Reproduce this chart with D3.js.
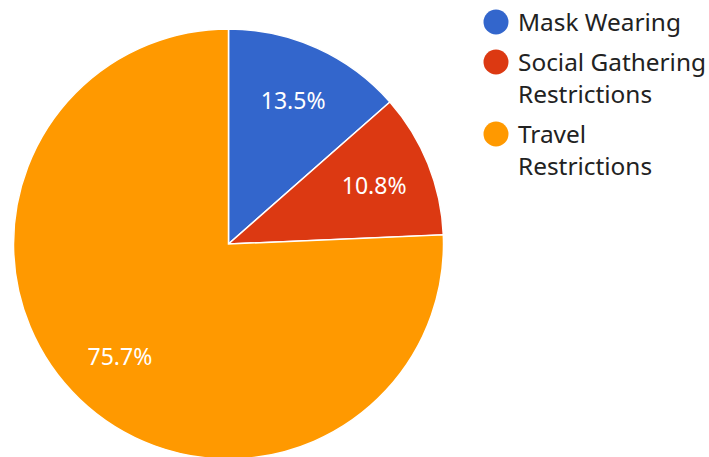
<!DOCTYPE html>
<html>
<head>
<meta charset="utf-8">
<script src="https://cdn.jsdelivr.net/npm/d3@7"></script>
<style>
  body { margin: 0; background: #fff; }
  text { font-family: "Noto Sans", sans-serif; }
</style>
</head>
<body>
<div id="chart"></div>
<script>
var categories = ["Mask Wearing", "Social Gathering Restrictions", "Travel Restrictions"];
var values = [5, 4, 28];
var legendLines = [["Mask Wearing"], ["Social Gathering", "Restrictions"], ["Travel", "Restrictions"]];
var colors = ["#3366cc", "#dc3912", "#ff9900"];

var width = 709, height = 457;
var cx = 228.5, cy = 244, radius = 215;

var svg = d3.select("#chart").append("svg")
    .attr("width", width)
    .attr("height", height);

var color = d3.scaleOrdinal()
    .domain(categories)
    .range(colors);

var data = categories.map(function (c, i) {
    return {name: c, value: values[i]};
});
var total = d3.sum(values);

var pie = d3.pie()
    .sort(null)
    .value(function (d) { return d.value; });

var arc = d3.arc()
    .innerRadius(0)
    .outerRadius(radius);

var labelArc = d3.arc()
    .innerRadius(radius * 0.73)
    .outerRadius(radius * 0.73);

var g = svg.append("g")
    .attr("transform", "translate(" + cx + "," + cy + ")");

var slices = g.selectAll(".slice")
    .data(pie(data))
    .enter().append("g")
    .attr("class", "slice");

slices.append("path")
    .attr("d", arc)
    .style("fill", function (d) { return color(d.data.name); })
    .style("stroke", "#fff")
    .style("stroke-width", 1.5);

slices.append("text")
    .attr("transform", function (d) {
        return "translate(" + labelArc.centroid(d) + ")";
    })
    .attr("dy", "0.35em")
    .style("text-anchor", "middle")
    .style("fill", "#fff")
    .style("font-size", "23px")
    .text(function (d) {
        return (d.data.value / total * 100).toFixed(1) + "%";
    });

// legend
var legendY = [22, 62, 134];
var legend = svg.selectAll(".legend")
    .data(categories)
    .enter().append("g")
    .attr("class", "legend")
    .attr("transform", function (d, i) {
        return "translate(496," + legendY[i] + ")";
    });

legend.append("circle")
    .attr("r", 12.5)
    .style("fill", function (d) { return color(d); });

legend.append("text")
    .attr("x", 22)
    .attr("y", 9)
    .style("font-size", "24.4px")
    .style("fill", "#222")
    .each(function (d, i) {
        var t = d3.select(this);
        legendLines[i].forEach(function (line, j) {
            t.append("tspan")
                .attr("x", 22)
                .attr("dy", j === 0 ? 0 : 32)
                .text(line);
        });
    });
</script>
</body>
</html>
